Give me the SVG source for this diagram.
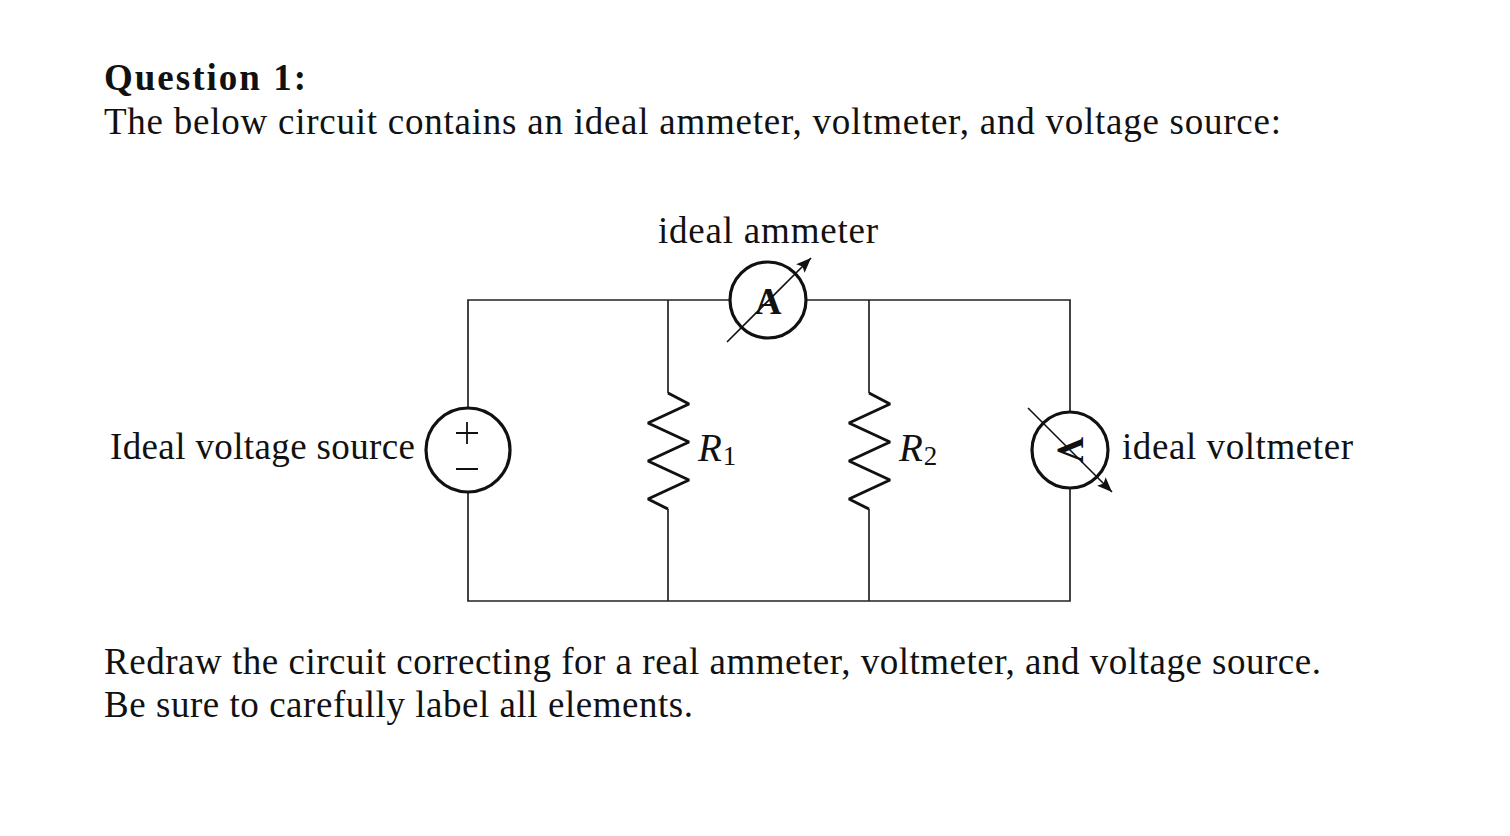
<svg xmlns="http://www.w3.org/2000/svg" width="1510" height="836" viewBox="0 0 1510 836">
<defs>
<style>
text{font-family:"Liberation Serif","Times New Roman",serif;fill:#111;font-size:37px}
.b{font-weight:bold}
.i{font-style:italic}
.w{fill:none;stroke:#222;stroke-width:1.7}
.e{fill:none;stroke:#111;stroke-width:3;stroke-linejoin:bevel}
.c{fill:#fff;stroke:#111;stroke-width:3.2}
.a{fill:none;stroke:#111;stroke-width:1.6;marker-end:url(#arr)}
.r{font-size:39px}
.s{font-size:27px;font-style:normal}
</style>
<marker id="arr" markerUnits="userSpaceOnUse" markerWidth="16" markerHeight="14" refX="15" refY="6" orient="auto"><path d="M0 0L15 6L0 12L3 6Z" fill="#111"/></marker>
</defs>
<rect width="1510" height="836" fill="#fff"/>
<text class="b" x="104" y="90" textLength="202" lengthAdjust="spacing">Question 1:</text>
<text x="104" y="134" textLength="1177" lengthAdjust="spacing">The below circuit contains an ideal ammeter, voltmeter, and voltage source:</text>
<text x="104" y="674" textLength="1217" lengthAdjust="spacing">Redraw the circuit correcting for a real ammeter, voltmeter, and voltage source.</text>
<text x="104" y="717" textLength="589" lengthAdjust="spacing">Be sure to carefully label all elements.</text>
<g id="connectors">
<path class="w" d="M468 408V300H730M806 300H1070V412M1070 488V601H468V492"/>
<path class="w" d="M668 300V393M668 509V601M869 300V393M869 509V601"/>
</g>
<g id="source">
<circle class="c" cx="468" cy="450" r="42"/>
<path d="M456 433H478M467 422V444M456 469H478" fill="none" stroke="#111" stroke-width="1.8"/>
<text x="110" y="459" textLength="305" lengthAdjust="spacing">Ideal voltage source</text>
</g>
<g id="r1">
<path class="e" d="M668 393L689 404L648 423L689 442L648 461L689 480L648 499L668 509"/>
<text class="i r" x="698" y="461">R<tspan class="s" dx="1" dy="4">1</tspan></text>
</g>
<g id="r2">
<path class="e" d="M869 393L890 404L849 423L890 442L849 461L890 480L849 499L869 509"/>
<text class="i r" x="899" y="461">R<tspan class="s" dx="1" dy="4">2</tspan></text>
</g>
<g id="ammeter">
<circle class="c" cx="768" cy="300" r="38"/>
<path class="a" d="M727 342L811 258"/>
<text class="b" x="768" y="314" text-anchor="middle">A</text>
<text x="768" y="243" text-anchor="middle" textLength="220" lengthAdjust="spacing">ideal ammeter</text>
</g>
<g id="voltmeter">
<circle class="c" cx="1070" cy="450" r="38"/>
<path class="a" d="M1028 408L1112 492"/>
<text class="b" transform="translate(1058 450) rotate(90)" x="0" y="0" text-anchor="middle">V</text>
<text x="1122" y="459" textLength="231" lengthAdjust="spacing">ideal voltmeter</text>
</g>
</svg>
